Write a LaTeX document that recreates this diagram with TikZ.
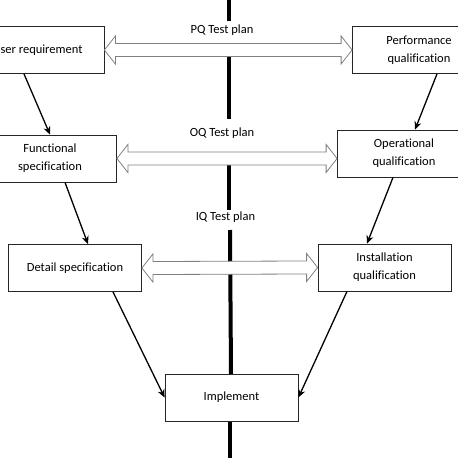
\documentclass[tikz,border=0pt]{standalone}
\usepackage{fontspec}
\setmainfont{Carlito}[Ligatures=NoCommon]
\usetikzlibrary{calc,arrows.meta}
\tikzset{
  box/.style={draw=black!85, line width=0.8pt, fill=white, minimum width=133pt, minimum height=47pt, inner sep=2pt, align=center, font=\fontsize{12.5}{18}\selectfont},
  lbl/.style={inner sep=1pt, font=\fontsize{12.5}{15}\selectfont},
  spine/.style={line width=4pt, black},
  conn/.style={line width=1.3pt, black, -{Stealth[length=8pt,width=7pt,inset=2.5pt]}},
  hollowarr/.style={draw=black!50, line width=0.8pt, fill=white, line join=miter}
}
\newcommand{\hollowdbl}[2]{\draw[hollowarr] (#1) -- ++(11,-14) -- ++(0,7.5) -- ($(#2)+(-11,-6.5)$) -- ++(0,-7.5) -- (#2) -- ++(-11,14) -- ++(0,-7.5) -- ($(#1)+(11,6.5)$) -- ++(0,7.5) -- cycle;}
\begin{document}
\begin{tikzpicture}[x=1pt,y=-1pt]
\useasboundingbox (0,0) rectangle (458,458);
% spine
\coordinate (s0) at (229,0);
\coordinate (s1) at (229,21);
\coordinate (s2) at (229,44);
\coordinate (s3) at (229,119);
\coordinate (s4) at (229,153);
\coordinate (s5) at (229,210);
\coordinate (s6) at (230,230);
\coordinate (s7) at (231,374);
\coordinate (s8) at (230,421);
\coordinate (s9) at (230,458);
\draw[spine] (s0) -- (s1);
\draw[spine] (s2) -- (s3);
\draw[spine] (s4) -- (s5);
\draw[spine] (s6) -- (s7);
\draw[spine] (s8) -- (s9);
% labels
\node[lbl] (pql) at (222,30) {PQ Test plan};
\node[lbl] (oql) at (222,133) {OQ Test plan};
\node[lbl] (iql) at (225.5,217) {IQ Test plan};
% boxes
\node[box] (ur) at (37.5,50) {User requirement};
\node[box] (pq) at (419,50) {Performance\\qualification};
\node[box] (fs) at (50,158.5) {Functional\\specification};
\node[box] (op) at (404,153.5) {Operational\\qualification};
\node[box] (ds) at (75,268) {Detail specification};
\node[box] (iq) at (384.5,267.5) {Installation\\qualification};
\node[box] (im) at (231.5,397.5) {Implement};
% hollow double arrows
\coordinate (oqR) at (op.west |- fs.east);
\hollowdbl{ur.east}{pq.west}
\hollowdbl{fs.east}{oqR}
\hollowdbl{ds.east}{iq.west}
% connectors
\draw[conn] ([xshift=-13.5pt]ur.south) -- (fs.north);
\draw[conn] ([xshift=18pt]pq.south) -- ([xshift=11pt]op.north);
\draw[conn] ([xshift=15pt]fs.south) -- ([xshift=13pt]ds.north);
\draw[conn] ([xshift=-11pt]op.south) -- ([xshift=-17.5pt]iq.north);
\draw[conn] ([xshift=38pt]ds.south) -- (im.west);
\draw[conn] ([xshift=-37.5pt]iq.south) -- (im.east);
\end{tikzpicture}
\end{document}
